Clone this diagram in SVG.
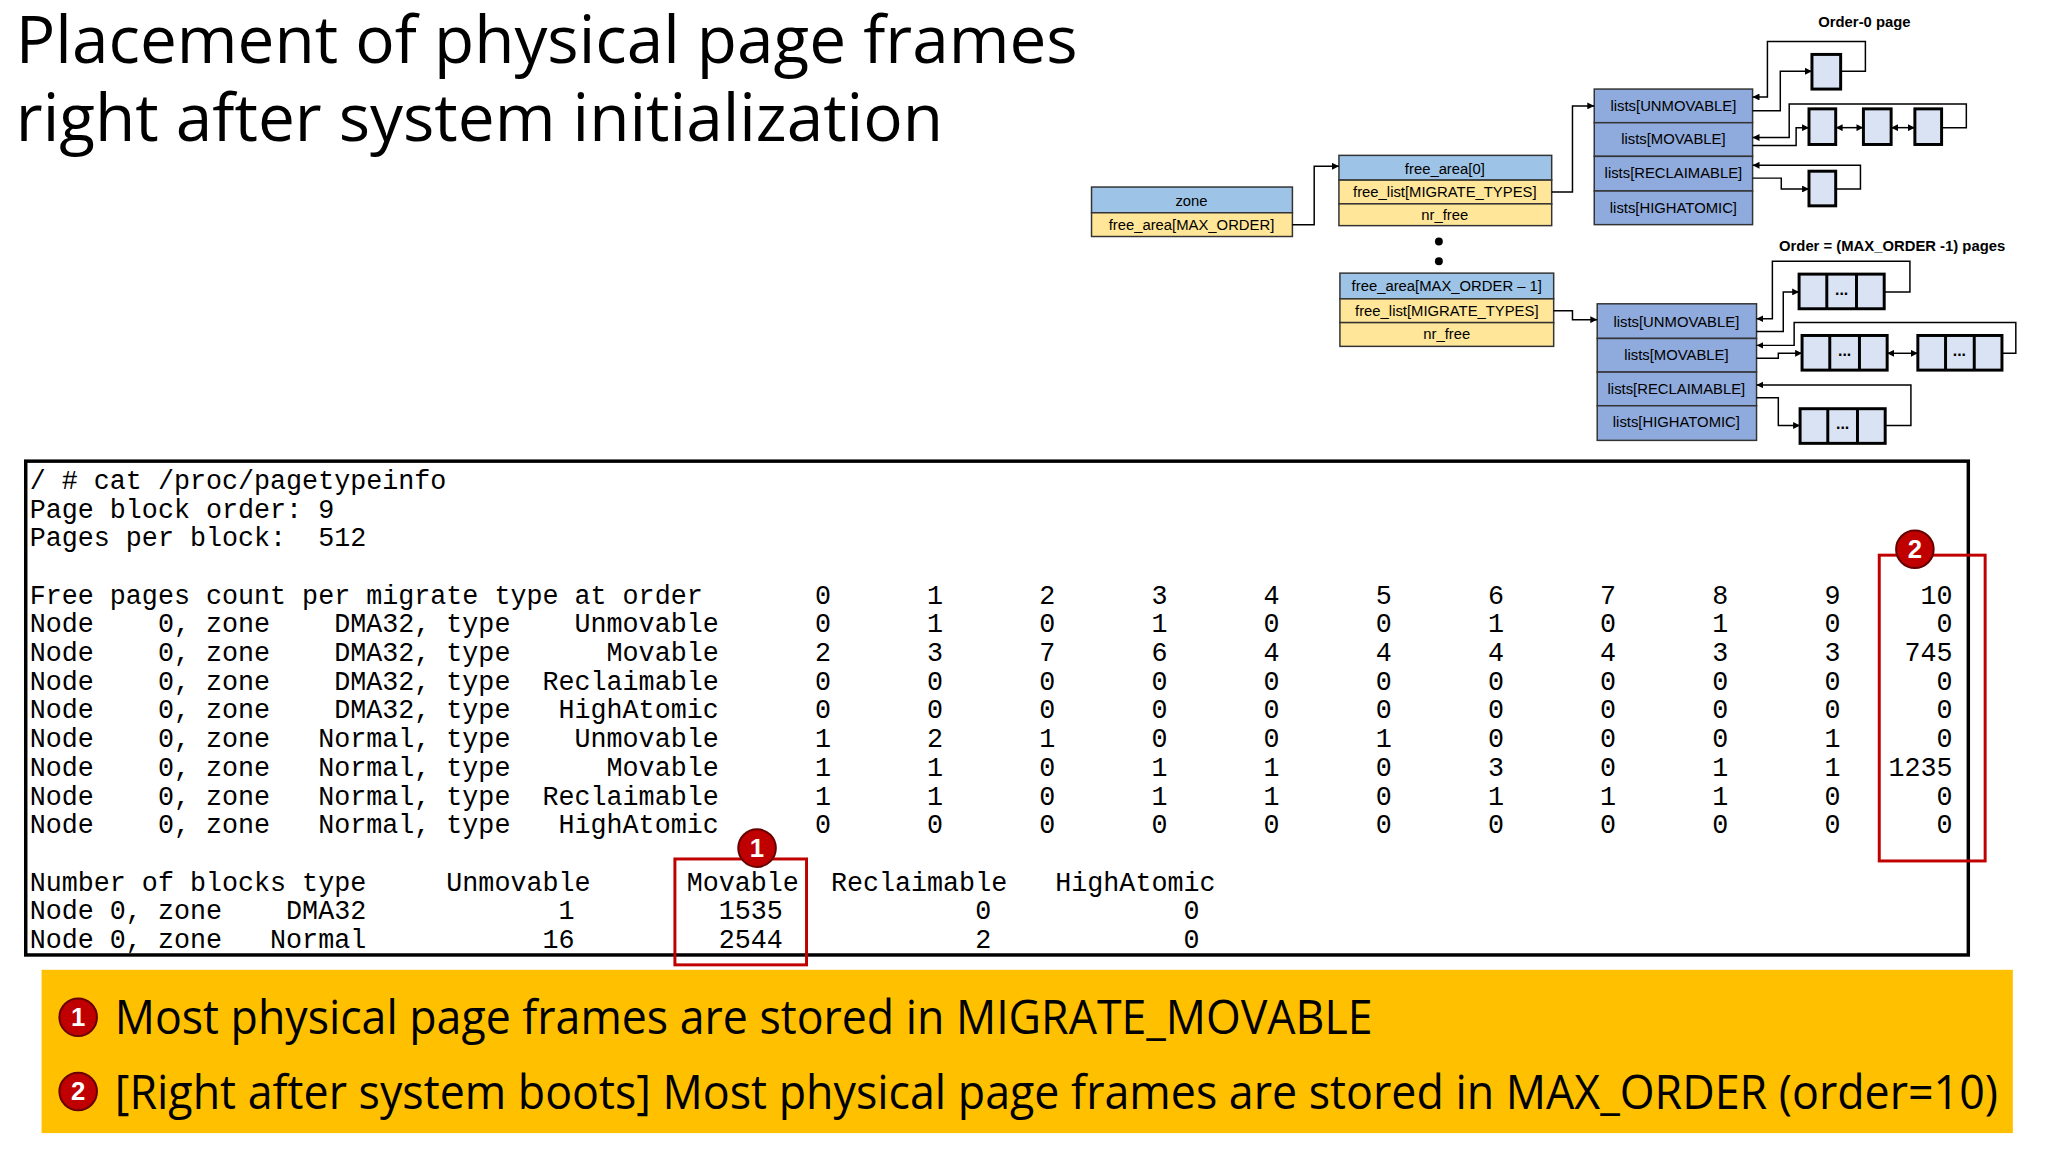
<svg xmlns="http://www.w3.org/2000/svg" width="2048" height="1152" viewBox="0 0 2048 1152">
<style>
.t{font-family:"Open Sans","Liberation Sans",sans-serif;fill:#000}
.s{font-family:"Liberation Sans",sans-serif;font-size:15px;text-anchor:middle;fill:#000}
.hd{fill:#9DC3E6;stroke:#333;stroke-width:1.5}
.yl{fill:#FFE699;stroke:#333;stroke-width:1.5}
.ls{fill:#8FAADC;stroke:#333;stroke-width:1.5}
.pg{fill:#DAE3F3;stroke:#000;stroke-width:3}
.c{fill:none;stroke:#000;stroke-width:1.5}
.m{font-family:"Liberation Mono",monospace;font-size:27px;white-space:pre;fill:#000}
.rb{fill:none;stroke:#C00000;stroke-width:3}
.bc{fill:#C00000;stroke:#600;stroke-width:2}
.bn{font-family:"Liberation Sans",sans-serif;font-weight:bold;fill:#fff;text-anchor:middle}
</style>
<defs>
<marker id="a" viewBox="0 0 10 10" refX="10" refY="5" markerWidth="7" markerHeight="7" markerUnits="userSpaceOnUse" orient="auto"><path d="M0,0L10,5L0,10z" fill="#000"/></marker>
<marker id="b" viewBox="0 0 10 10" refX="0" refY="5" markerWidth="7" markerHeight="7" markerUnits="userSpaceOnUse" orient="auto"><path d="M10,0L0,5L10,10z" fill="#000"/></marker>
</defs>
<rect width="2048" height="1152" fill="#fff"/>
<g transform="scale(0.9896)">
<text class="t" x="16" y="64" font-size="66" textLength="1073" lengthAdjust="spacingAndGlyphs">Placement of physical page frames</text>
<text class="t" x="16" y="142" font-size="66" textLength="937" lengthAdjust="spacingAndGlyphs">right after system initialization</text>

<g id="zone"><rect class="hd" x="1103" y="189" width="203" height="26"/><rect class="yl" x="1103" y="215" width="203" height="24"/>
<text class="s" x="1204" y="208" font-size="16">zone</text><text class="s" x="1204" y="232">free_area[MAX_ORDER]</text></g>
<g id="fa0"><rect class="hd" x="1353" y="157" width="215" height="25"/><rect class="yl" x="1353" y="182" width="215" height="24"/><rect class="yl" x="1353" y="206" width="215" height="22"/>
<text class="s" x="1460" y="176" font-size="17">free_area[0]</text><text class="s" x="1460" y="199">free_list[MIGRATE_TYPES]</text><text class="s" x="1460" y="222">nr_free</text></g>
<g id="dots"><circle cx="1454" cy="244" r="4"/><circle cx="1454" cy="264" r="4"/></g>
<g id="faN"><rect class="hd" x="1354" y="276" width="216" height="26"/><rect class="yl" x="1354" y="302" width="216" height="24"/><rect class="yl" x="1354" y="326" width="216" height="24"/>
<text class="s" x="1462" y="294">free_area[MAX_ORDER – 1]</text><text class="s" x="1462" y="319">free_list[MIGRATE_TYPES]</text><text class="s" x="1462" y="343">nr_free</text></g>
<g id="lists0">
<rect class="ls" x="1611" y="90" width="160" height="34"/><rect class="ls" x="1611" y="124" width="160" height="34"/><rect class="ls" x="1611" y="158" width="160" height="35"/><rect class="ls" x="1611" y="193" width="160" height="34"/>
<text class="s" x="1691" y="112">lists[UNMOVABLE]</text><text class="s" x="1691" y="146">lists[MOVABLE]</text><text class="s" x="1691" y="180">lists[RECLAIMABLE]</text><text class="s" x="1691" y="215">lists[HIGHATOMIC]</text></g>
<g id="listsN">
<rect class="ls" x="1614" y="307" width="161" height="35"/><rect class="ls" x="1614" y="342" width="161" height="34"/><rect class="ls" x="1614" y="376" width="161" height="34"/><rect class="ls" x="1614" y="410" width="161" height="35"/>
<text class="s" x="1694" y="330">lists[UNMOVABLE]</text><text class="s" x="1694" y="364">lists[MOVABLE]</text><text class="s" x="1694" y="398">lists[RECLAIMABLE]</text><text class="s" x="1694" y="432">lists[HIGHATOMIC]</text></g>
<text class="s" x="1884" y="27" font-weight="bold">Order-0 page</text>
<text class="s" x="1912" y="254" font-weight="bold">Order = (MAX_ORDER -1) pages</text>
<g id="pages0">
<rect class="pg" x="1831" y="55" width="29" height="35"/>
<rect class="pg" x="1828" y="110" width="27" height="36"/><rect class="pg" x="1883" y="110" width="28" height="36"/><rect class="pg" x="1935" y="110" width="27" height="36"/>
<rect class="pg" x="1828" y="173" width="27" height="35"/></g>
<g id="pagesN" font-family="Liberation Sans" font-weight="bold" font-size="16" text-anchor="middle">
<rect class="pg" x="1818" y="277" width="86" height="35"/><path class="pg" d="M1846,277V312M1876,277V312"/><text x="1861" y="298">...</text>
<rect class="pg" x="1821" y="339" width="86" height="35"/><path class="pg" d="M1849,339V374M1879,339V374"/><text x="1864" y="360">...</text>
<rect class="pg" x="1938" y="339" width="85" height="35"/><path class="pg" d="M1966,339V374M1995,339V374"/><text x="1980" y="360">...</text>
<rect class="pg" x="1819" y="413" width="86" height="35"/><path class="pg" d="M1847,413V448M1877,413V448"/><text x="1862" y="434">...</text></g>
<g id="connectors">
<path class="c" marker-end="url(#a)" d="M1306,227H1328V168H1353"/>
<path class="c" marker-end="url(#a)" d="M1568,194H1589V107H1611"/>
<path class="c" marker-end="url(#a)" d="M1570,314H1589V323H1614"/>
<path class="c" marker-end="url(#a)" d="M1860,72H1885V42H1786V98H1771"/>
<path class="c" marker-end="url(#a)" d="M1771,112H1799V72H1831"/>
<path class="c" marker-end="url(#a)" d="M1962,129H1987V105H1808V139H1771"/>
<path class="c" marker-end="url(#a)" d="M1771,147H1815V129H1828"/>
<path class="c" marker-start="url(#b)" marker-end="url(#a)" d="M1855,129H1883"/>
<path class="c" marker-start="url(#b)" marker-end="url(#a)" d="M1911,129H1935"/>
<path class="c" marker-end="url(#a)" d="M1855,191H1880V167H1771"/>
<path class="c" marker-end="url(#a)" d="M1771,180H1800V191H1828"/>
<path class="c" marker-end="url(#a)" d="M1904,295H1930V264H1791V322H1775"/>
<path class="c" marker-end="url(#a)" d="M1775,335H1802V295H1818"/>
<path class="c" marker-end="url(#a)" d="M2023,357H2037V326H1813V349H1775"/>
<path class="c" marker-end="url(#a)" d="M1775,362H1797V357H1821"/>
<path class="c" marker-start="url(#b)" marker-end="url(#a)" d="M1907,357H1938"/>
<path class="c" marker-end="url(#a)" d="M1905,430H1931V389H1775"/>
<path class="c" marker-end="url(#a)" d="M1775,402H1797V430H1819"/>
</g>

<g id="terminal">
<rect x="26" y="466" width="1963" height="499" fill="#fff" stroke="#000" stroke-width="3.5"/>
<text class="m" x="30" y="494">/ # cat /proc/pagetypeinfo</text>
<text class="m" x="30" y="523">Page block order: 9</text>
<text class="m" x="30" y="552">Pages per block:  512</text>
<text class="m" x="30" y="610">Free pages count per migrate type at order       0      1      2      3      4      5      6      7      8      9     10</text>
<text class="m" x="30" y="639">Node    0, zone    DMA32, type    Unmovable      0      1      0      1      0      0      1      0      1      0      0</text>
<text class="m" x="30" y="668">Node    0, zone    DMA32, type      Movable      2      3      7      6      4      4      4      4      3      3    745</text>
<text class="m" x="30" y="697">Node    0, zone    DMA32, type  Reclaimable      0      0      0      0      0      0      0      0      0      0      0</text>
<text class="m" x="30" y="726">Node    0, zone    DMA32, type   HighAtomic      0      0      0      0      0      0      0      0      0      0      0</text>
<text class="m" x="30" y="755">Node    0, zone   Normal, type    Unmovable      1      2      1      0      0      1      0      0      0      1      0</text>
<text class="m" x="30" y="784">Node    0, zone   Normal, type      Movable      1      1      0      1      1      0      3      0      1      1   1235</text>
<text class="m" x="30" y="813">Node    0, zone   Normal, type  Reclaimable      1      1      0      1      1      0      1      1      1      0      0</text>
<text class="m" x="30" y="842">Node    0, zone   Normal, type   HighAtomic      0      0      0      0      0      0      0      0      0      0      0</text>
<text class="m" x="30" y="900">Number of blocks type     Unmovable      Movable  Reclaimable   HighAtomic</text>
<text class="m" x="30" y="929">Node 0, zone    DMA32            1         1535            0            0</text>
<text class="m" x="30" y="958">Node 0, zone   Normal           16         2544            2            0</text>
</g>
<g id="mark1"><rect class="rb" x="682" y="868" width="133" height="107"/><circle class="bc" cx="765" cy="857" r="19"/><text class="bn" x="765" y="866" font-size="26">1</text></g>
<g id="mark2"><rect class="rb" x="1899" y="561" width="107" height="309"/><circle class="bc" cx="1935" cy="555" r="19"/><text class="bn" x="1935" y="564" font-size="26">2</text></g>
<g id="banner">
<rect x="42" y="980" width="1992" height="165" fill="#FFC000"/>
<circle class="bc" cx="79" cy="1028" r="19" stroke="#fff" stroke-width="2"/><text class="bn" x="79" y="1037" font-size="26">1</text>
<text class="t" x="116" y="1045" font-size="48" textLength="1271" lengthAdjust="spacingAndGlyphs">Most physical page frames are stored in MIGRATE_MOVABLE</text>
<circle class="bc" cx="79" cy="1103" r="19" stroke="#fff" stroke-width="2"/><text class="bn" x="79" y="1112" font-size="26">2</text>
<text class="t" x="116" y="1121" font-size="48" textLength="1903" lengthAdjust="spacingAndGlyphs">[Right after system boots] Most physical page frames are stored in MAX_ORDER (order=10)</text>
</g>
</g>
</svg>
